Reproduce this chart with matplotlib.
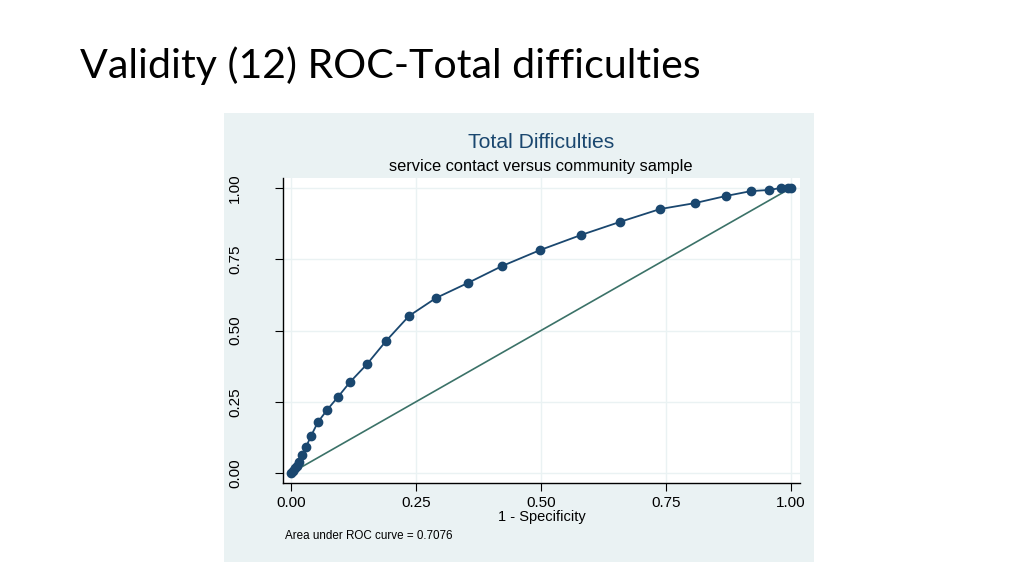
import numpy as np
import matplotlib
matplotlib.use("Agg")
import matplotlib.pyplot as plt
from matplotlib.patches import Rectangle

# ROC points (1 - specificity, sensitivity)
fpr = [0.0, 0.004, 0.008, 0.012, 0.016, 0.022, 0.030, 0.040, 0.054, 0.072,
       0.094, 0.118, 0.152, 0.190, 0.236, 0.290, 0.354, 0.422, 0.498, 0.580,
       0.658, 0.738, 0.808, 0.870, 0.920, 0.956, 0.980, 0.994, 1.0]
tpr = [0.0, 0.008, 0.016, 0.026, 0.038, 0.063, 0.091, 0.130, 0.179, 0.221,
       0.267, 0.319, 0.382, 0.463, 0.551, 0.614, 0.667, 0.726, 0.782, 0.835,
       0.881, 0.926, 0.947, 0.972, 0.989, 0.993, 1.0, 1.0, 1.0]
ticks = [0.0, 0.25, 0.50, 0.75, 1.0]
tick_labels = ["0.00", "0.25", "0.50", "0.75", "1.00"]

navy = "#1a476f"
green = "#3b7268"
panel = "#eaf2f3"

plt.rcParams["font.family"] = ["Liberation Sans", "DejaVu Sans"]

W, H = 1024, 576
fig = plt.figure(figsize=(W / 100, H / 100), dpi=100)
fig.patch.set_facecolor("white")

# stata graph region
fig.patches.append(Rectangle((224 / W, 1 - 562 / H), (814 - 224) / W, (562 - 113) / H,
                             transform=fig.transFigure, facecolor=panel,
                             edgecolor="none", zorder=-1))

ax = fig.add_axes([283 / W, 1 - 483 / H, (800 - 283) / W, (483 - 178) / H])
ax.set_zorder(2)
ax.set_facecolor("white")
ax.set_xlim(-0.016, 1.018)
ax.set_ylim(-0.035, 1.035)

ax.plot([0, 1], [0, 1], color=green, lw=1.2, zorder=2)
ax.plot(fpr, tpr, color=navy, lw=1.3, marker="o", ms=6, zorder=3)

ax.set_xticks(ticks)
ax.set_xticklabels(tick_labels)
ax.set_yticks(ticks)
ax.set_yticklabels(tick_labels, rotation=90, va="center")
ax.tick_params(direction="out", length=5.5, width=0.8, labelsize=11,
               colors="black")
ax.tick_params(axis="x", pad=4)
ax.tick_params(axis="y", pad=24)
ax.grid(True, color=panel, lw=1.0, zorder=0)
ax.set_axisbelow(True)
for s in ["top", "right"]:
    ax.spines[s].set_visible(False)
for s in ["left", "bottom"]:
    ax.spines[s].set_linewidth(1.0)

ax.set_xlabel("1 - Specificity", fontsize=10.5, labelpad=0)

fig.text(541 / W, 1 - 142 / H, "Total Difficulties", fontsize=15.2, color=navy,
         ha="center", va="center")
fig.text(541 / W, 1 - 167 / H, "service contact versus community sample",
         fontsize=11.8, color="black", ha="center", va="center")
fig.text(285 / W, 1 - 536 / H, "Area under ROC curve = 0.7076", fontsize=8.4,
         color="black", ha="left", va="center")

# slide heading, scaled to span the same width as the original
head = fig.text(80 / W, 1 - 66 / H, "Validity (12) ROC-Total difficulties",
                fontsize=32, color="black", ha="left", va="center",
                family="Lato", fontweight="normal")
fig.canvas.draw()
bb = head.get_window_extent()
head.set_fontsize(32 * 620 / bb.width)

fig.savefig("out.png", dpi=100, facecolor="white")
